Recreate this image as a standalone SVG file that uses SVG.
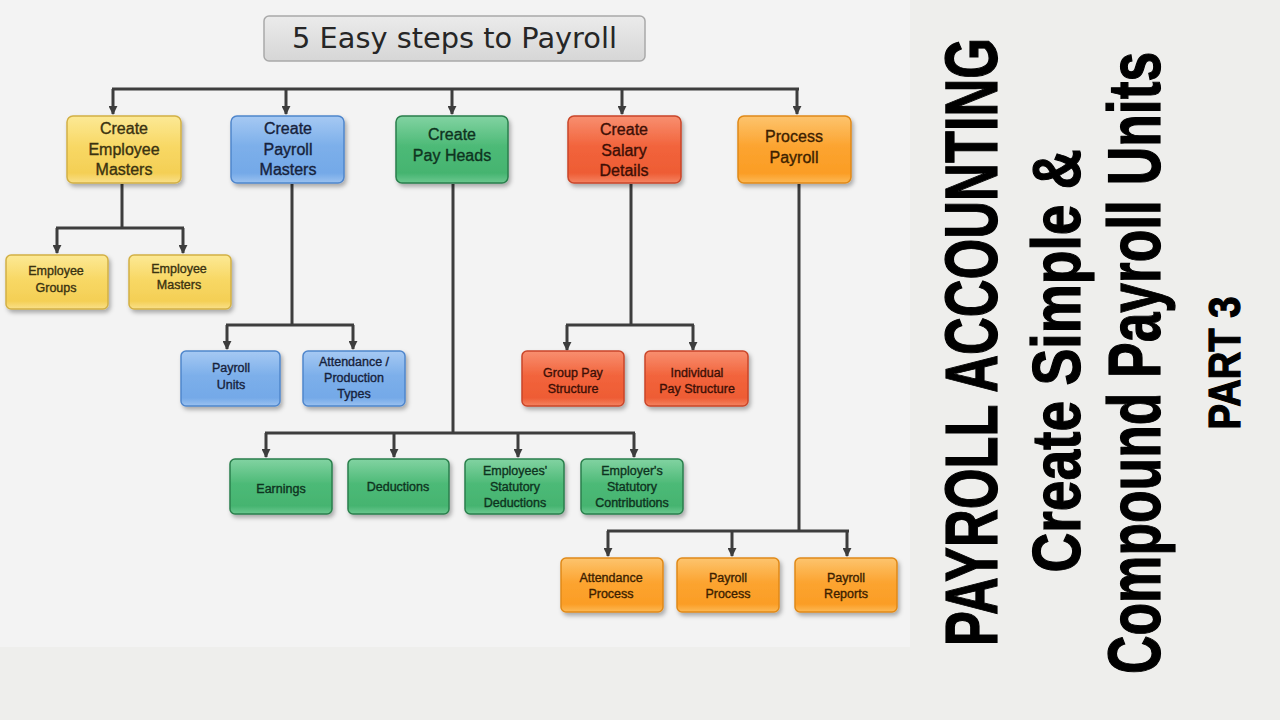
<svg xmlns="http://www.w3.org/2000/svg" width="1280" height="720" viewBox="0 0 1280 720">
<defs>
  <style>
    .lbl{font-family:"Liberation Sans",Arial,sans-serif;text-anchor:middle;stroke-width:0.35px;paint-order:stroke}
    .big{font-size:16px}
    .sm{font-size:12.5px}
    .conn line{stroke:#3d3d3d;stroke-width:3;fill:none}
    .arr{marker-end:url(#ah)}
    .side{font-family:"Liberation Sans",Arial,sans-serif;font-weight:bold;fill:#000;stroke:#000;stroke-width:1.2px;text-anchor:middle}
    .y rect.b{fill:url(#gy);stroke:#d2b045}
    .bl rect.b{fill:url(#gb);stroke:#4f86cc}
    .g rect.b{fill:url(#gg);stroke:#2a7f4c}
    .r rect.b{fill:url(#gr);stroke:#c9462a}
    .o rect.b{fill:url(#go);stroke:#e08918}
    rect.b{stroke-width:1.5;filter:url(#sh)}
    .y text{fill:#3a3210;stroke:#3a3210}.bl text{fill:#16223c;stroke:#16223c}.g text{fill:#0e3320;stroke:#0e3320}.r text{fill:#3d0f05;stroke:#3d0f05}.o text{fill:#3d1f00;stroke:#3d1f00}
  </style>
  <marker id="ah" viewBox="0 0 10 10" refX="9" refY="5" markerWidth="9" markerHeight="9" markerUnits="userSpaceOnUse" orient="auto">
    <path d="M0,0 L10,5 L0,10 z" fill="#3d3d3d"/>
  </marker>
  <filter id="sh" x="-10%" y="-10%" width="130%" height="140%">
    <feDropShadow dx="2" dy="3" stdDeviation="2" flood-color="#000" flood-opacity="0.3"/>
  </filter>
  <linearGradient id="gy" x1="0" y1="0" x2="0" y2="1">
    <stop offset="0" stop-color="#fce995"/><stop offset="0.45" stop-color="#f8d865"/><stop offset="0.85" stop-color="#f4cf55"/><stop offset="1" stop-color="#f9e08a"/>
  </linearGradient>
  <linearGradient id="gb" x1="0" y1="0" x2="0" y2="1">
    <stop offset="0" stop-color="#a6c9f3"/><stop offset="0.45" stop-color="#7cafea"/><stop offset="0.85" stop-color="#74a9e8"/><stop offset="1" stop-color="#9cc2f0"/>
  </linearGradient>
  <linearGradient id="gg" x1="0" y1="0" x2="0" y2="1">
    <stop offset="0" stop-color="#82d3a2"/><stop offset="0.45" stop-color="#4dba77"/><stop offset="0.85" stop-color="#45b470"/><stop offset="1" stop-color="#6cc890"/>
  </linearGradient>
  <linearGradient id="gr" x1="0" y1="0" x2="0" y2="1">
    <stop offset="0" stop-color="#f88f70"/><stop offset="0.45" stop-color="#f2643c"/><stop offset="0.85" stop-color="#ee5c34"/><stop offset="1" stop-color="#f58462"/>
  </linearGradient>
  <linearGradient id="go" x1="0" y1="0" x2="0" y2="1">
    <stop offset="0" stop-color="#fdc46e"/><stop offset="0.45" stop-color="#fca430"/><stop offset="0.85" stop-color="#fb9d25"/><stop offset="1" stop-color="#fdb955"/>
  </linearGradient>
  <linearGradient id="gt" x1="0" y1="0" x2="0" y2="1">
    <stop offset="0" stop-color="#ebebeb"/><stop offset="1" stop-color="#d6d6d6"/>
  </linearGradient>
</defs>

<rect x="0" y="0" width="1280" height="720" fill="#eeeeec"/>
<rect x="0" y="0" width="910" height="647" fill="#f3f3f3"/>

<g id="title">
  <rect x="264" y="16" width="381" height="45" rx="5" fill="url(#gt)" stroke="#a9a9a9" stroke-width="1.5"/>
  <text x="454.5" y="48" font-family="DejaVu Sans,Verdana,sans-serif" font-size="28" text-anchor="middle" fill="#262626" textLength="325" lengthAdjust="spacingAndGlyphs">5 Easy steps to Payroll</text>
</g>

<g id="connectors" class="conn">
  <line x1="112" y1="89" x2="799" y2="89"/>
  <line class="arr" x1="113" y1="89" x2="113" y2="114"/>
  <line class="arr" x1="286" y1="89" x2="286" y2="114"/>
  <line class="arr" x1="452" y1="89" x2="452" y2="114"/>
  <line class="arr" x1="622" y1="89" x2="622" y2="114"/>
  <line class="arr" x1="797" y1="89" x2="797" y2="114"/>

  <line x1="122" y1="184" x2="122" y2="228"/>
  <line x1="56" y1="228" x2="184" y2="228"/>
  <line class="arr" x1="57" y1="228" x2="57" y2="253"/>
  <line class="arr" x1="183" y1="228" x2="183" y2="253"/>

  <line x1="292" y1="184" x2="292" y2="325"/>
  <line x1="226" y1="325" x2="354" y2="325"/>
  <line class="arr" x1="227" y1="325" x2="227" y2="349"/>
  <line class="arr" x1="353" y1="325" x2="353" y2="349"/>

  <line x1="453" y1="184" x2="453" y2="433"/>
  <line x1="265" y1="433" x2="635" y2="433"/>
  <line class="arr" x1="266" y1="433" x2="266" y2="457"/>
  <line class="arr" x1="394" y1="433" x2="394" y2="457"/>
  <line class="arr" x1="518" y1="433" x2="518" y2="457"/>
  <line class="arr" x1="634" y1="433" x2="634" y2="457"/>

  <line x1="631" y1="184" x2="631" y2="325"/>
  <line x1="566" y1="325" x2="694" y2="325"/>
  <line class="arr" x1="567" y1="325" x2="567" y2="350"/>
  <line class="arr" x1="693" y1="325" x2="693" y2="350"/>

  <line x1="799" y1="184" x2="799" y2="531"/>
  <line x1="607" y1="531" x2="849" y2="531"/>
  <line class="arr" x1="608" y1="531" x2="608" y2="556"/>
  <line class="arr" x1="732" y1="531" x2="732" y2="556"/>
  <line class="arr" x1="847" y1="531" x2="847" y2="556"/>
</g>

<g id="n-create-employee-masters" class="y">
  <rect class="b" x="67" y="116" width="114" height="67" rx="6"/>
  <text class="lbl big" x="124" y="134">Create</text>
  <text class="lbl big" x="124" y="155">Employee</text>
  <text class="lbl big" x="124" y="175">Masters</text>
</g>
<g id="n-create-payroll-masters" class="bl">
  <rect class="b" x="231" y="116" width="113" height="67" rx="6"/>
  <text class="lbl big" x="288" y="134">Create</text>
  <text class="lbl big" x="288" y="155">Payroll</text>
  <text class="lbl big" x="288" y="175">Masters</text>
</g>
<g id="n-create-pay-heads" class="g">
  <rect class="b" x="396" y="116" width="112" height="67" rx="6"/>
  <text class="lbl big" x="452" y="140">Create</text>
  <text class="lbl big" x="452" y="161">Pay Heads</text>
</g>
<g id="n-create-salary-details" class="r">
  <rect class="b" x="568" y="116" width="113" height="67" rx="6"/>
  <text class="lbl big" x="624" y="135">Create</text>
  <text class="lbl big" x="624" y="156">Salary</text>
  <text class="lbl big" x="624" y="176">Details</text>
</g>
<g id="n-process-payroll" class="o">
  <rect class="b" x="738" y="116" width="113" height="67" rx="6"/>
  <text class="lbl big" x="794" y="142">Process</text>
  <text class="lbl big" x="794" y="163">Payroll</text>
</g>

<g id="n-employee-groups" class="y">
  <rect class="b" x="6" y="255" width="102" height="54" rx="5"/>
  <text class="lbl sm" x="56" y="275">Employee</text>
  <text class="lbl sm" x="56" y="292">Groups</text>
</g>
<g id="n-employee-masters" class="y">
  <rect class="b" x="129" y="255" width="102" height="54" rx="5"/>
  <text class="lbl sm" x="179" y="273">Employee</text>
  <text class="lbl sm" x="179" y="289">Masters</text>
</g>

<g id="n-payroll-units" class="bl">
  <rect class="b" x="181" y="351" width="99" height="55" rx="5"/>
  <text class="lbl sm" x="231" y="372">Payroll</text>
  <text class="lbl sm" x="231" y="389">Units</text>
</g>
<g id="n-attendance-types" class="bl">
  <rect class="b" x="303" y="351" width="102" height="55" rx="5"/>
  <text class="lbl sm" x="354" y="366">Attendance /</text>
  <text class="lbl sm" x="354" y="382">Production</text>
  <text class="lbl sm" x="354" y="398">Types</text>
</g>

<g id="n-group-pay-structure" class="r">
  <rect class="b" x="522" y="351" width="102" height="55" rx="5"/>
  <text class="lbl sm" x="573" y="377">Group Pay</text>
  <text class="lbl sm" x="573" y="393">Structure</text>
</g>
<g id="n-individual-pay-structure" class="r">
  <rect class="b" x="645" y="351" width="103" height="55" rx="5"/>
  <text class="lbl sm" x="697" y="377">Individual</text>
  <text class="lbl sm" x="697" y="393">Pay Structure</text>
</g>

<g id="n-earnings" class="g">
  <rect class="b" x="230" y="459" width="102" height="55" rx="5"/>
  <text class="lbl sm" x="281" y="493">Earnings</text>
</g>
<g id="n-deductions" class="g">
  <rect class="b" x="348" y="459" width="101" height="55" rx="5"/>
  <text class="lbl sm" x="398" y="491">Deductions</text>
</g>
<g id="n-employees-statutory" class="g">
  <rect class="b" x="465" y="459" width="99" height="55" rx="5"/>
  <text class="lbl sm" x="515" y="475">Employees'</text>
  <text class="lbl sm" x="515" y="491">Statutory</text>
  <text class="lbl sm" x="515" y="507">Deductions</text>
</g>
<g id="n-employers-statutory" class="g">
  <rect class="b" x="581" y="459" width="102" height="55" rx="5"/>
  <text class="lbl sm" x="632" y="475">Employer's</text>
  <text class="lbl sm" x="632" y="491">Statutory</text>
  <text class="lbl sm" x="632" y="507">Contributions</text>
</g>

<g id="n-attendance-process" class="o">
  <rect class="b" x="561" y="558" width="102" height="54" rx="5"/>
  <text class="lbl sm" x="611" y="582">Attendance</text>
  <text class="lbl sm" x="611" y="598">Process</text>
</g>
<g id="n-payroll-process" class="o">
  <rect class="b" x="677" y="558" width="102" height="54" rx="5"/>
  <text class="lbl sm" x="728" y="582">Payroll</text>
  <text class="lbl sm" x="728" y="598">Process</text>
</g>
<g id="n-payroll-reports" class="o">
  <rect class="b" x="795" y="558" width="102" height="54" rx="5"/>
  <text class="lbl sm" x="846" y="582">Payroll</text>
  <text class="lbl sm" x="846" y="598">Reports</text>
</g>

<g id="side-title">
  <text class="side" transform="translate(997,342) rotate(-90) scale(0.694,1)" font-size="74" textLength="876" lengthAdjust="spacingAndGlyphs">PAYROLL ACCOUNTING</text>
  <text class="side" transform="translate(1080,361) rotate(-90) scale(0.8,1)" font-size="69" textLength="529" lengthAdjust="spacingAndGlyphs">Create Simple &amp;</text>
  <text class="side" transform="translate(1160,363) rotate(-90) scale(0.711,1)" font-size="75" textLength="875" lengthAdjust="spacingAndGlyphs">Compound Payroll Units</text>
  <text class="side" transform="translate(1240,363) rotate(-90) scale(0.85,1)" font-size="44" textLength="156.5" lengthAdjust="spacingAndGlyphs">PART 3</text>
</g>
</svg>
